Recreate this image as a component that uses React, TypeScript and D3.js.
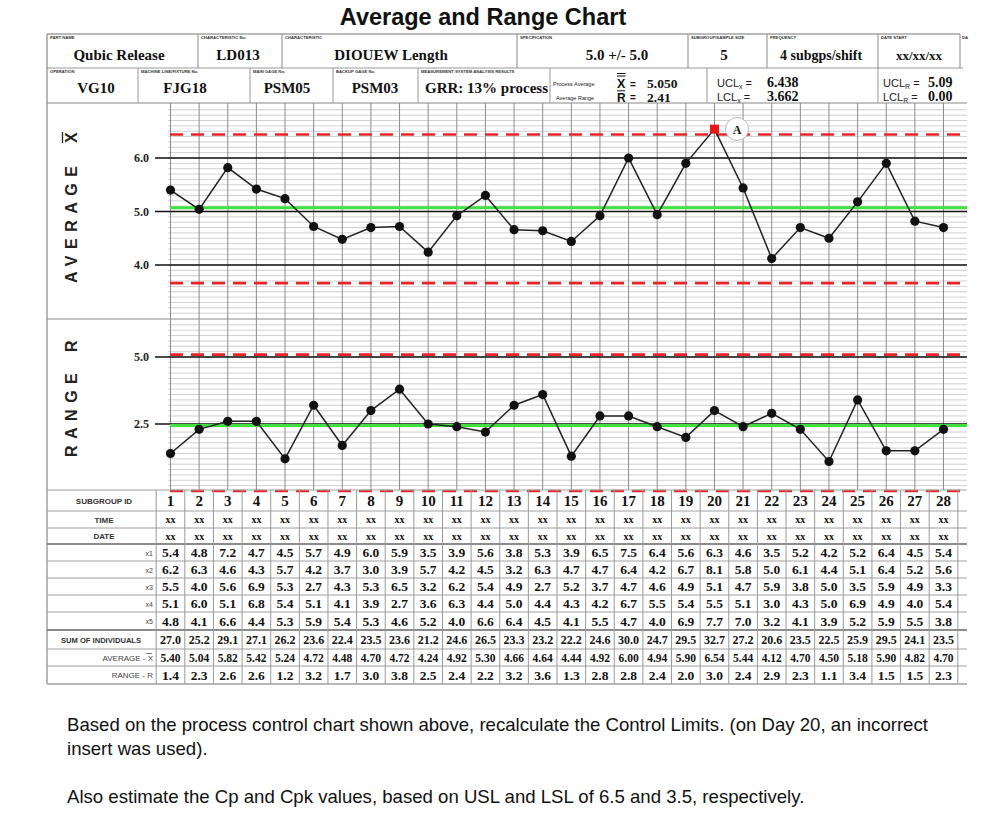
import React from "react";
import * as d3 from "d3";

// ---------- DATA ----------
const subgroupIds = d3.range(1, 29);
const x1 = [5.4, 4.8, 7.2, 4.7, 4.5, 5.7, 4.9, 6.0, 5.9, 3.5, 3.9, 5.6, 3.8, 5.3, 3.9, 6.5, 7.5, 6.4, 5.6, 6.3, 4.6, 3.5, 5.2, 4.2, 5.2, 6.4, 4.5, 5.4];
const x2 = [6.2, 6.3, 4.6, 4.3, 5.7, 4.2, 3.7, 3.0, 3.9, 5.7, 4.2, 4.5, 3.2, 6.3, 4.7, 4.7, 6.4, 4.2, 6.7, 8.1, 5.8, 5.0, 6.1, 4.4, 5.1, 6.4, 5.2, 5.6];
const x3 = [5.5, 4.0, 5.6, 6.9, 5.3, 2.7, 4.3, 5.3, 6.5, 3.2, 6.2, 5.4, 4.9, 2.7, 5.2, 3.7, 4.7, 4.6, 4.9, 5.1, 4.7, 5.9, 3.8, 5.0, 3.5, 5.9, 4.9, 3.3];
const x4 = [5.1, 6.0, 5.1, 6.8, 5.4, 5.1, 4.1, 3.9, 2.7, 3.6, 6.3, 4.4, 5.0, 4.4, 4.3, 4.2, 6.7, 5.5, 5.4, 5.5, 5.1, 3.0, 4.3, 5.0, 6.9, 4.9, 4.0, 5.4];
const x5 = [4.8, 4.1, 6.6, 4.4, 5.3, 5.9, 5.4, 5.3, 4.6, 5.2, 4.0, 6.6, 6.4, 4.5, 4.1, 5.5, 4.7, 4.0, 6.9, 7.7, 7.0, 3.2, 4.1, 3.9, 5.2, 5.9, 5.5, 3.8];
const sums = [27.0, 25.2, 29.1, 27.1, 26.2, 23.6, 22.4, 23.5, 23.6, 21.2, 24.6, 26.5, 23.3, 23.2, 22.2, 24.6, 30.0, 24.7, 29.5, 32.7, 27.2, 20.6, 23.5, 22.5, 25.9, 29.5, 24.1, 23.5];
const averages = [5.40, 5.04, 5.82, 5.42, 5.24, 4.72, 4.48, 4.70, 4.72, 4.24, 4.92, 5.30, 4.66, 4.64, 4.44, 4.92, 6.00, 4.94, 5.90, 6.54, 5.44, 4.12, 4.70, 4.50, 5.18, 5.90, 4.82, 4.70];
const ranges = [1.4, 2.3, 2.6, 2.6, 1.2, 3.2, 1.7, 3.0, 3.8, 2.5, 2.4, 2.2, 3.2, 3.6, 1.3, 2.8, 2.8, 2.4, 2.0, 3.0, 2.4, 2.9, 2.3, 1.1, 3.4, 1.5, 1.5, 2.3];
const xbarTicks = [4.0, 5.0, 6.0];
const rangeTicks = [2.5, 5.0];
const grandMean = 5.05;
const uclX = 6.438;
const lclX = 3.662;
const rBar = 2.41;
const uclR = 5.09;
const lclR = 0.0;
const outOfControlIndex = 19; // subgroup 20

// ---------- LAYOUT ----------
const W = 988;
const H = 823;
const frameL = 47;
const frameR = 967;
const headerTop = 34;
const row1B = 68;
const row2B = 103;
const chartSplit = 319;
const tableTop = 490;
const tableRows = [490, 511, 528, 544, 561, 578, 595, 612, 630, 649, 666, 684];

const xScale = d3.scaleLinear().domain([1, 28]).range([170.5, 943.5]);
const cellW = xScale(2) - xScale(1);
const yX = d3.scaleLinear().domain([3, 7]).range([318.5, 104.5]);
const yR = d3.scaleLinear().domain([0, 6.4]).range([491, 319.5]);

const serif = "'Liberation Serif', 'Times New Roman', serif";
const sans = "'Liberation Sans', Arial, sans-serif";

const f1 = d3.format(".1f");
const f2 = d3.format(".2f");

function ChartPanel({ y, values, ticks, center, ucl, lcl, minor, yTop, yBot, special }: any) {
  const line = d3.line<number>().x((_, i) => xScale(i + 1)).y((v) => y(v));
  return (
    <g>
      {minor.map((v: number, i: number) => (
        <line key={"m" + i} x1={168} x2={frameR} y1={y(v)} y2={y(v)} stroke="#c4c4c4" strokeWidth={0.8} />
      ))}
      {subgroupIds.map((id) => (
        <line key={"v" + id} x1={xScale(id)} x2={xScale(id)} y1={yTop} y2={yBot} stroke="#8c8c8c" strokeWidth={1} />
      ))}
      {ticks.map((t: number) => (
        <g key={"t" + t}>
          <line x1={155} x2={frameR} y1={y(t)} y2={y(t)} stroke="#111" strokeWidth={1.6} />
          <text x={149} y={y(t) + 4} textAnchor="end" fontFamily={serif} fontWeight="bold" fontSize={12} fill="#222">
            {f1(t)}
          </text>
        </g>
      ))}
      <line x1={170} x2={frameR} y1={y(center) - 1} y2={y(center) - 1} stroke="#3fe03f" strokeWidth={3} />
      <line x1={170} x2={frameR} y1={y(ucl)} y2={y(ucl)} stroke="#e8242a" strokeWidth={2.6} strokeDasharray="13 8" />
      <line x1={170} x2={frameR} y1={y(lcl)} y2={y(lcl)} stroke="#e8242a" strokeWidth={2.6} strokeDasharray="13 8" />
      <path d={line(values) || ""} fill="none" stroke="#222" strokeWidth={1.5} />
      {values.map((v: number, i: number) =>
        special === i ? (
          <rect key={"p" + i} x={xScale(i + 1) - 4.5} y={y(v) - 4.5} width={9} height={9} fill="#e81818" />
        ) : (
          <circle key={"p" + i} cx={xScale(i + 1)} cy={y(v)} r={4.6} fill="#111" />
        )
      )}
    </g>
  );
}

function TinyLabel({ x, y, text }: any) {
  return (
    <text x={x} y={y} fontFamily={sans} fontWeight="bold" fontSize={4.2} fill="#333">
      {text}
    </text>
  );
}

export default function App() {
  const xMinor = d3.range(31, 70).map((v) => v / 10);
  const rMinor = d3.range(1, 33).map((v) => v * 0.2);

  const row1Lines = [198, 282, 517, 688, 767, 878, 960];
  const row2Lines = [138, 250, 333, 418, 550, 707, 878];

  const center = (i: number) => (tableRows[i] + tableRows[i + 1]) / 2;

  const dataRows = [
    { label: "x1", vals: x1, fmt: f1, size: 13.5 },
    { label: "x2", vals: x2, fmt: f1, size: 13.5 },
    { label: "x3", vals: x3, fmt: f1, size: 13.5 },
    { label: "x4", vals: x4, fmt: f1, size: 13.5 },
    { label: "x5", vals: x5, fmt: f1, size: 13.5 },
  ];

  return (
    <div style={{ position: "absolute", left: 0, top: 0 }}>
      <svg width={W} height={H} style={{ display: "block", background: "#fff" }}>
        <rect x={0} y={0} width={W} height={H} fill="#fff" />
        {/* Title */}
        <text x={483} y={25} textAnchor="middle" fontFamily={sans} fontWeight="bold" fontSize={23.5} fill="#111">
          Average and Range Chart
        </text>

        {/* Header frame */}
        <line x1={frameL} x2={960} y1={headerTop} y2={headerTop} stroke="#777" strokeWidth={1.2} />
        <line x1={frameL} x2={963} y1={row1B} y2={row1B} stroke="#999" strokeWidth={1} />
        <line x1={frameL} x2={frameR} y1={row2B} y2={row2B} stroke="#888" strokeWidth={1} />
        {row1Lines.map((x) => (
          <line key={"r1" + x} x1={x} x2={x} y1={headerTop} y2={row1B} stroke="#888" strokeWidth={1} />
        ))}
        {row2Lines.map((x) => (
          <line key={"r2" + x} x1={x} x2={x} y1={row1B} y2={row2B} stroke="#999" strokeWidth={1} />
        ))}
        <line x1={frameL} x2={frameL} y1={headerTop} y2={tableRows[tableRows.length - 1]} stroke="#888" strokeWidth={1.2} />

        <TinyLabel x={50} y={39} text="PART NAME" />
        <TinyLabel x={201} y={39} text="CHARACTERISTIC No." />
        <TinyLabel x={285} y={39} text="CHARACTERISTIC" />
        <TinyLabel x={520} y={39} text="SPECIFICATION" />
        <TinyLabel x={691} y={39} text="SUBGROUP/SAMPLE SIZE" />
        <TinyLabel x={770} y={39} text="FREQUENCY" />
        <TinyLabel x={881} y={39} text="DATE START" />
        <TinyLabel x={962} y={39} text="DA" />
        <TinyLabel x={50} y={73} text="OPERATION" />
        <TinyLabel x={141} y={73} text="MACHINE LINE/FIXTURE No." />
        <TinyLabel x={253} y={73} text="MAIN GAGE No." />
        <TinyLabel x={336} y={73} text="BACKUP GAGE No." />
        <TinyLabel x={421} y={73} text="MEASUREMENT SYSTEM ANALYSIS RESULTS" />

        <g fontFamily={serif} fontWeight="bold" fontSize={15} fill="#111" textAnchor="middle">
          <text x={119} y={60}>Qubic Release</text>
          <text x={238} y={60}>LD013</text>
          <text x={391} y={60}>DIOUEW Length</text>
          <text x={617} y={60}>5.0 +/- 5.0</text>
          <text x={724} y={60}>5</text>
          <text x={821} y={60} fontSize={14}>4 subgps/shift</text>
          <text x={919} y={60} fontSize={13}>xx/xx/xx</text>
          <text x={96} y={93}>VG10</text>
          <text x={185} y={93}>FJG18</text>
          <text x={287} y={93}>PSM05</text>
          <text x={375} y={93}>PSM03</text>
          <text x={425} y={93} textAnchor="start">GRR: 13% process</text>
        </g>

        {/* Process average / range */}
        <text x={553} y={86} fontFamily={sans} fontSize={5.5} fill="#222">Process Average</text>
        <text x={556} y={100} fontFamily={sans} fontSize={5.5} fill="#222">Average Range</text>
        <text x={617} y={88} fontFamily={sans} fontWeight="bold" fontSize={12.5} fill="#111">X</text>
        <line x1={617} x2={625.5} y1={76} y2={76} stroke="#111" strokeWidth={1} />
        <line x1={617} x2={625.5} y1={73.5} y2={73.5} stroke="#111" strokeWidth={1} />
        <text x={630} y={87.5} fontFamily={sans} fontWeight="bold" fontSize={10} fill="#111">=</text>
        <text x={647} y={88} fontFamily={serif} fontWeight="bold" fontSize={13.5} fill="#111">{d3.format(".3f")(grandMean)}</text>
        <text x={617} y={101.5} fontFamily={sans} fontWeight="bold" fontSize={12} fill="#111">R</text>
        <line x1={617} x2={625} y1={90.8} y2={90.8} stroke="#111" strokeWidth={1} />
        <text x={630} y={101} fontFamily={sans} fontWeight="bold" fontSize={10} fill="#111">=</text>
        <text x={647} y={101.5} fontFamily={serif} fontWeight="bold" fontSize={13.5} fill="#111">{f2(rBar)}</text>

        <g fontFamily={sans} fontSize={11} fill="#222">
          <text x={717} y={87}>UCL<tspan fontSize={7} dy={2}>x</tspan><tspan dy={-2}> =</tspan></text>
          <text x={717} y={101}>LCL<tspan fontSize={7} dy={2}>x</tspan><tspan dy={-2}> =</tspan></text>
          <text x={883} y={87}>UCL<tspan fontSize={7} dy={2}>R</tspan><tspan dy={-2}> =</tspan></text>
          <text x={883} y={101}>LCL<tspan fontSize={7} dy={2}>R</tspan><tspan dy={-2}> =</tspan></text>
        </g>
        <g fontFamily={serif} fontWeight="bold" fontSize={14} fill="#111">
          <text x={767} y={87}>{d3.format(".3f")(uclX)}</text>
          <text x={767} y={101}>{d3.format(".3f")(lclX)}</text>
          <text x={928} y={87}>{f2(uclR)}</text>
          <text x={928} y={101}>{f2(lclR)}</text>
        </g>

        {/* Charts */}
        <ChartPanel y={yX} values={averages} ticks={xbarTicks} center={grandMean} ucl={uclX} lcl={lclX}
          minor={xMinor} yTop={row2B} yBot={chartSplit} special={outOfControlIndex} />
        <line x1={frameL} x2={frameR} y1={chartSplit} y2={chartSplit} stroke="#8c8c8c" strokeWidth={1.2} />
        <ChartPanel y={yR} values={ranges} ticks={rangeTicks} center={rBar} ucl={uclR} lcl={lclR}
          minor={rMinor} yTop={chartSplit} yBot={tableTop} special={-1} />

        {/* Callout A */}
        <circle cx={737} cy={129} r={11.5} fill="#fff" stroke="#bbb" strokeWidth={1} />
        <text x={737} y={133.5} textAnchor="middle" fontFamily={serif} fontWeight="bold" fontSize={12} fill="#111">A</text>

        {/* Axis titles */}
        <g transform="translate(77,283) rotate(-90)">
          <text x={0} y={0} fontFamily={sans} fontWeight="bold" fontSize={16} fill="#222" style={{ letterSpacing: "6.5px" }}>AVERAGE</text>
          <text x={140} y={0} fontFamily={sans} fontWeight="bold" fontSize={16} fill="#222">X</text>
          <line x1={140} x2={151} y1={-14.5} y2={-14.5} stroke="#222" strokeWidth={1.3} />
        </g>
        <g transform="translate(77,457) rotate(-90)">
          <text x={0} y={0} fontFamily={sans} fontWeight="bold" fontSize={16} fill="#222" style={{ letterSpacing: "6.5px" }}>RANGE</text>
          <text x={105} y={0} fontFamily={sans} fontWeight="bold" fontSize={16} fill="#222">R</text>
        </g>

        {/* Table grid */}
        {tableRows.map((y, i) => (
          <line key={"h" + i} x1={frameL} x2={frameR} y1={y} y2={y}
            stroke={i === 3 || i === 8 ? "#666" : "#a0a0a0"} strokeWidth={i === 3 || i === 8 || i === tableRows.length - 1 ? 1.5 : 1} />
        ))}
        {subgroupIds.map((id) => (
          <line key={"cv" + id} x1={xScale(id) - cellW / 2} x2={xScale(id) - cellW / 2} y1={tableTop} y2={tableRows[tableRows.length - 1]} stroke="#999" strokeWidth={1} />
        ))}
        <line x1={xScale(28) + cellW / 2} x2={xScale(28) + cellW / 2} y1={tableTop} y2={tableRows[tableRows.length - 1]} stroke="#999" strokeWidth={1} />

        {/* Table labels */}
        <g fontFamily={sans} fontWeight="bold" fontSize={8} fill="#333" textAnchor="middle">
          <text x={104} y={center(0) + 3}>SUBGROUP ID</text>
          <text x={104} y={center(1) + 3}>TIME</text>
          <text x={104} y={center(2) + 3}>DATE</text>
          <text x={101} y={center(8) + 3} fontSize={7.6}>SUM OF INDIVIDUALS</text>
        </g>
        <g fontFamily={sans} fontSize={8} fill="#444" textAnchor="end">
          {dataRows.map((r, i) => (
            <text key={r.label} x={153} y={center(3 + i) + 3} fontSize={7}>{r.label}</text>
          ))}
          <text x={153} y={center(9) + 3}>AVERAGE - X</text>
          <line x1={146} x2={152} y1={center(9) - 4} y2={center(9) - 4} stroke="#444" strokeWidth={0.7} />
          <text x={153} y={center(10) + 3}>RANGE - R</text>
        </g>

        {/* Table values */}
        <g fontFamily={serif} fontWeight="bold" fill="#111" textAnchor="middle">
          {subgroupIds.map((id) => (
            <text key={"id" + id} x={xScale(id)} y={center(0) + 5.5} fontSize={15}>{id}</text>
          ))}
          {subgroupIds.map((id) => (
            <text key={"tm" + id} x={xScale(id)} y={center(1) + 3.5} fontSize={10}>xx</text>
          ))}
          {subgroupIds.map((id) => (
            <text key={"dt" + id} x={xScale(id)} y={center(2) + 3.5} fontSize={10}>xx</text>
          ))}
          {dataRows.map((r, ri) =>
            r.vals.map((v, i) => (
              <text key={r.label + i} x={xScale(i + 1)} y={center(3 + ri) + 4.5} fontSize={r.size}>{r.fmt(v)}</text>
            ))
          )}
          {sums.map((v, i) => (
            <text key={"s" + i} x={xScale(i + 1)} y={center(8) + 4} fontSize={12}>{f1(v)}</text>
          ))}
          {averages.map((v, i) => (
            <text key={"a" + i} x={xScale(i + 1)} y={center(9) + 4} fontSize={11.5}>{f2(v)}</text>
          ))}
          {ranges.map((v, i) => (
            <text key={"r" + i} x={xScale(i + 1)} y={center(10) + 4.5} fontSize={13.5}>{f1(v)}</text>
          ))}
        </g>

        {/* Question text */}
        <g fontFamily={sans} fontSize={18.6} fill="#111">
          <text x={67} y={731}>Based on the process control chart shown above, recalculate the Control Limits. (on Day 20, an incorrect</text>
          <text x={67} y={755}>insert was used).</text>
          <text x={67} y={803}>Also estimate the Cp and Cpk values, based on USL and LSL of 6.5 and 3.5, respectively.</text>
        </g>
      </svg>
    </div>
  );
}
